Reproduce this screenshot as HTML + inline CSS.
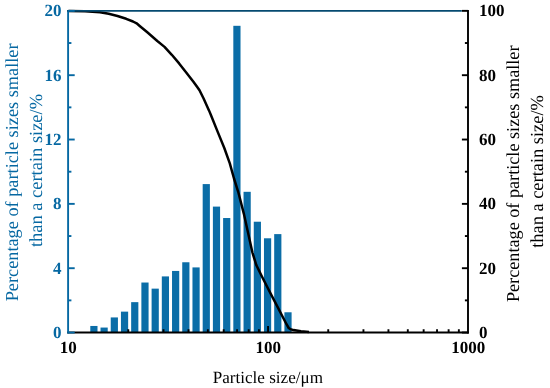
<!DOCTYPE html>
<html><head><meta charset="utf-8"><title>Particle size distribution</title>
<style>
html,body{margin:0;padding:0;background:#fff;}
svg{display:block;}
text{font-family:"Liberation Serif","Times New Roman",serif;text-rendering:geometricPrecision;}
.tk{font-weight:bold;font-size:17px;}
.yl{font-size:18.2px;}
.xl{font-size:17.1px;}
</style></head><body>
<svg width="550" height="388" viewBox="0 0 550 388">
<rect width="550" height="388" fill="#fff"/>
<g fill="#0b6da7">
<rect x="90.30" y="325.96" width="7.2" height="6.59"/>
<rect x="100.52" y="327.56" width="7.2" height="4.99"/>
<rect x="110.73" y="317.43" width="7.2" height="15.12"/>
<rect x="120.95" y="311.64" width="7.2" height="20.91"/>
<rect x="131.16" y="302.15" width="7.2" height="30.40"/>
<rect x="141.38" y="282.53" width="7.2" height="50.02"/>
<rect x="151.60" y="288.64" width="7.2" height="43.91"/>
<rect x="161.81" y="276.41" width="7.2" height="56.14"/>
<rect x="172.03" y="270.94" width="7.2" height="61.61"/>
<rect x="182.24" y="262.26" width="7.2" height="70.29"/>
<rect x="192.46" y="267.41" width="7.2" height="65.14"/>
<rect x="202.68" y="184.09" width="7.2" height="148.46"/>
<rect x="212.89" y="206.60" width="7.2" height="125.95"/>
<rect x="223.11" y="218.02" width="7.2" height="114.53"/>
<rect x="233.32" y="25.81" width="7.2" height="306.74"/>
<rect x="243.54" y="191.81" width="7.2" height="140.74"/>
<rect x="253.76" y="221.72" width="7.2" height="110.83"/>
<rect x="263.97" y="238.29" width="7.2" height="94.26"/>
<rect x="274.19" y="234.11" width="7.2" height="98.44"/>
<rect x="284.40" y="312.28" width="7.2" height="20.27"/>
</g>
<polyline points="68.5,11.0 85.0,11.3 100.0,12.2 108.7,13.8 117.5,16.0 126.2,18.8 133.0,21.5 136.6,23.3 140.0,26.2 147.3,32.3 157.3,41.0 164.5,46.9 171.8,54.8 179.1,63.4 186.4,72.7 193.6,82.0 197.4,87.2 199.5,90.3 203.6,98.5 209.2,110.9 211.0,115.3 217.6,131.6 224.3,148.0 229.8,163.3 234.0,178.5 238.2,191.8 243.8,213.6 249.1,237.6 252.4,252.5 256.4,265.3 261.8,276.2 268.4,289.3 275.2,302.4 282.0,315.5 286.5,324.2 288.7,328.0 290.5,329.3 293.6,330.1 300.9,331.3 309.0,332.1" fill="none" stroke="#000" stroke-width="2.5" stroke-linejoin="round" stroke-linecap="butt"/>
<g stroke="#000" stroke-width="1.9" fill="none">
<line x1="67.14999999999999" y1="332.55" x2="468.95" y2="332.55"/>
<line x1="468.0" y1="9.9" x2="468.0" y2="333.5"/>
<line x1="128.29" y1="332.55" x2="128.29" y2="329.25"/>
<line x1="163.50" y1="332.55" x2="163.50" y2="329.25"/>
<line x1="188.48" y1="332.55" x2="188.48" y2="329.25"/>
<line x1="207.86" y1="332.55" x2="207.86" y2="329.25"/>
<line x1="223.69" y1="332.55" x2="223.69" y2="329.25"/>
<line x1="237.08" y1="332.55" x2="237.08" y2="329.25"/>
<line x1="248.67" y1="332.55" x2="248.67" y2="329.25"/>
<line x1="258.90" y1="332.55" x2="258.90" y2="329.25"/>
<line x1="268.05" y1="332.55" x2="268.05" y2="325.95"/>
<line x1="328.24" y1="332.55" x2="328.24" y2="329.25"/>
<line x1="363.45" y1="332.55" x2="363.45" y2="329.25"/>
<line x1="388.43" y1="332.55" x2="388.43" y2="329.25"/>
<line x1="407.81" y1="332.55" x2="407.81" y2="329.25"/>
<line x1="423.64" y1="332.55" x2="423.64" y2="329.25"/>
<line x1="437.03" y1="332.55" x2="437.03" y2="329.25"/>
<line x1="448.62" y1="332.55" x2="448.62" y2="329.25"/>
<line x1="458.85" y1="332.55" x2="458.85" y2="329.25"/>
<line x1="468.0" y1="332.55" x2="461.9" y2="332.55"/>
<line x1="468.0" y1="300.38" x2="464.9" y2="300.38"/>
<line x1="468.0" y1="268.21" x2="461.9" y2="268.21"/>
<line x1="468.0" y1="236.04" x2="464.9" y2="236.04"/>
<line x1="468.0" y1="203.87" x2="461.9" y2="203.87"/>
<line x1="468.0" y1="171.70" x2="464.9" y2="171.70"/>
<line x1="468.0" y1="139.53" x2="461.9" y2="139.53"/>
<line x1="468.0" y1="107.36" x2="464.9" y2="107.36"/>
<line x1="468.0" y1="75.19" x2="461.9" y2="75.19"/>
<line x1="468.0" y1="43.02" x2="464.9" y2="43.02"/>
<line x1="468.0" y1="10.85" x2="461.9" y2="10.85"/>
</g>
<g stroke="#0668a2" stroke-width="1.9" fill="none">
<line x1="68.1" y1="9.9" x2="68.1" y2="333.5"/>
<line x1="67.14999999999999" y1="10.85" x2="461.8" y2="10.85" stroke="#054a70"/>
<line x1="68.1" y1="332.55" x2="74.69999999999999" y2="332.55"/>
<line x1="68.1" y1="300.38" x2="71.39999999999999" y2="300.38"/>
<line x1="68.1" y1="268.21" x2="74.69999999999999" y2="268.21"/>
<line x1="68.1" y1="236.04" x2="71.39999999999999" y2="236.04"/>
<line x1="68.1" y1="203.87" x2="74.69999999999999" y2="203.87"/>
<line x1="68.1" y1="171.70" x2="71.39999999999999" y2="171.70"/>
<line x1="68.1" y1="139.53" x2="74.69999999999999" y2="139.53"/>
<line x1="68.1" y1="107.36" x2="71.39999999999999" y2="107.36"/>
<line x1="68.1" y1="75.19" x2="74.69999999999999" y2="75.19"/>
<line x1="68.1" y1="43.02" x2="71.39999999999999" y2="43.02"/>
<line x1="68.1" y1="10.85" x2="74.69999999999999" y2="10.85"/>
</g>
<text transform="translate(61.60,338.05)" font-size="17" text-anchor="end" fill="#0668a2" font-weight="bold">0</text>
<text transform="translate(61.60,273.71)" font-size="17" text-anchor="end" fill="#0668a2" font-weight="bold">4</text>
<text transform="translate(61.60,209.37)" font-size="17" text-anchor="end" fill="#0668a2" font-weight="bold">8</text>
<text transform="translate(61.60,145.03)" font-size="17" text-anchor="end" fill="#0668a2" font-weight="bold">12</text>
<text transform="translate(61.60,80.69)" font-size="17" text-anchor="end" fill="#0668a2" font-weight="bold">16</text>
<text transform="translate(61.60,16.35)" font-size="17" text-anchor="end" fill="#0668a2" font-weight="bold">20</text>
<text transform="translate(479.00,337.95)" font-size="17" text-anchor="start" fill="#000" font-weight="bold">0</text>
<text transform="translate(479.00,273.61)" font-size="17" text-anchor="start" fill="#000" font-weight="bold">20</text>
<text transform="translate(479.00,209.27)" font-size="17" text-anchor="start" fill="#000" font-weight="bold">40</text>
<text transform="translate(479.00,144.93)" font-size="17" text-anchor="start" fill="#000" font-weight="bold">60</text>
<text transform="translate(479.00,80.59)" font-size="17" text-anchor="start" fill="#000" font-weight="bold">80</text>
<text transform="translate(479.00,16.25)" font-size="17" text-anchor="start" fill="#000" font-weight="bold">100</text>
<text transform="translate(68.30,352.80)" font-size="17" text-anchor="middle" fill="#000" font-weight="bold">10</text>
<text transform="translate(268.25,352.80)" font-size="17" text-anchor="middle" fill="#000" font-weight="bold">100</text>
<text transform="translate(468.20,352.80)" font-size="17" text-anchor="middle" fill="#000" font-weight="bold">1000</text>
<text transform="translate(17.90,172.40) rotate(-90)" font-size="18.3" text-anchor="middle" fill="#0668a2">Percentage of particle sizes smaller</text>
<text transform="translate(41.60,170.50) rotate(-90)" font-size="18.45" text-anchor="middle" fill="#0668a2">than a certain size/%</text>
<text transform="translate(519.20,173.80) rotate(-90)" font-size="18.2" text-anchor="middle" fill="#000">Percentage of particle sizes smaller</text>
<text transform="translate(543.00,171.50) rotate(-90)" font-size="18.4" text-anchor="middle" fill="#000">than a certain size/%</text>
<text transform="translate(267.80,383.00)" font-size="17.1" text-anchor="middle" fill="#000">Particle size/μm</text>
</svg></body></html>
